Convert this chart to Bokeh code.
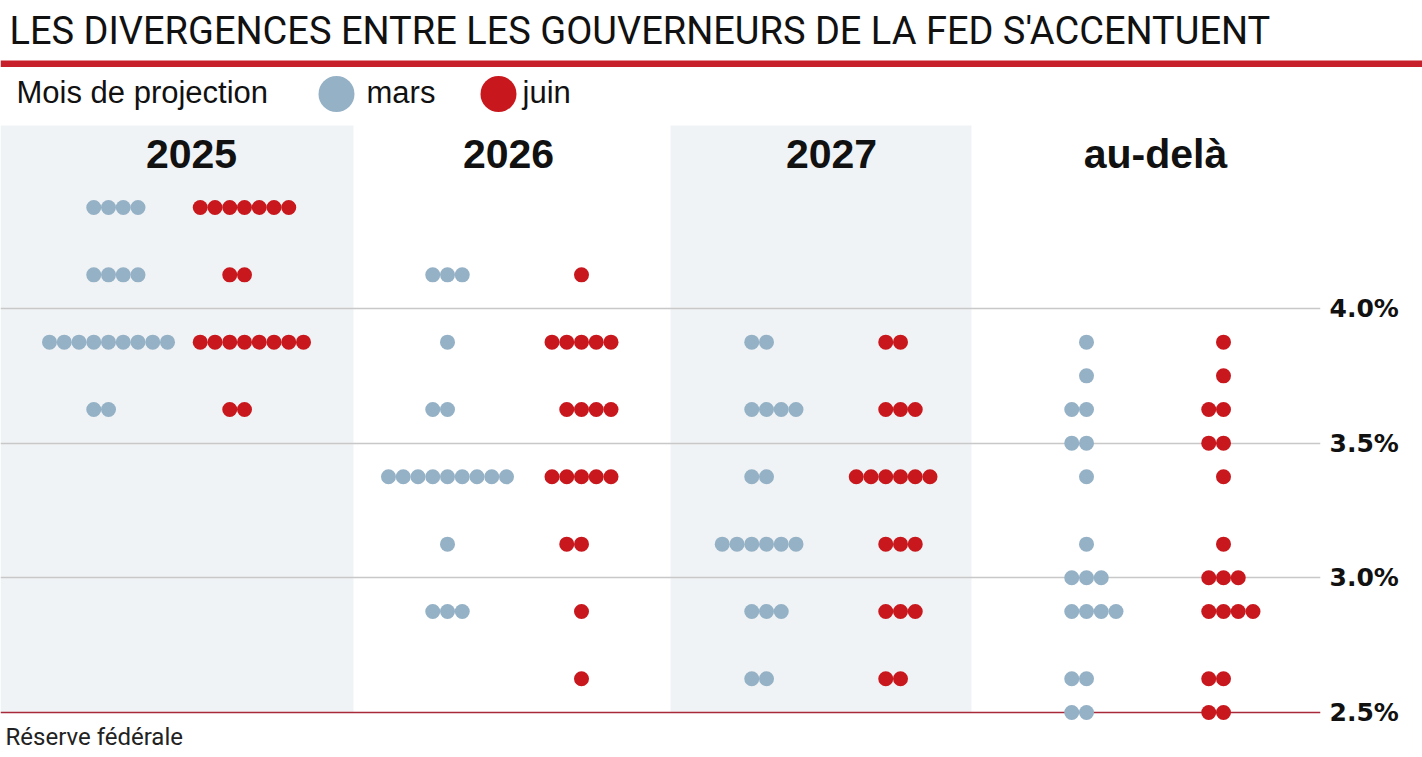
from bokeh.plotting import figure
from bokeh.models import Range1d, FixedTicker, PrintfTickFormatter, Span
from bokeh.layouts import column
from bokeh.core.properties import value
from bokeh.embed import file_html
from bokeh.resources import INLINE

# ---------------- data ----------------
TITLE = "LES DIVERGENCES ENTRE LES GOUVERNEURS DE LA FED S'ACCENTUENT"
SOURCE = "Réserve fédérale"
LEGEND_TITLE = "Mois de projection"
months = ["mars", "juin"]
periods = ["2025", "2026", "2027", "au-delà"]
levels = [4.375, 4.125, 3.875, 3.75, 3.625, 3.5, 3.375, 3.125, 3.0, 2.875, 2.625, 2.5]

mars_2025 = [4, 4, 9, 0, 2, 0, 0, 0, 0, 0, 0, 0]
juin_2025 = [7, 2, 8, 0, 2, 0, 0, 0, 0, 0, 0, 0]
mars_2026 = [0, 3, 1, 0, 2, 0, 9, 1, 0, 3, 0, 0]
juin_2026 = [0, 1, 5, 0, 4, 0, 5, 2, 0, 1, 1, 0]
mars_2027 = [0, 0, 2, 0, 4, 0, 2, 6, 0, 3, 2, 0]
juin_2027 = [0, 0, 2, 0, 3, 0, 6, 3, 0, 3, 2, 0]
mars_lr = [0, 0, 1, 1, 2, 2, 1, 1, 3, 4, 2, 2]
juin_lr = [0, 0, 1, 1, 2, 2, 1, 1, 3, 4, 2, 2]

y_ticks = [2.5, 3.0, 3.5, 4.0]

# ---------------- layout / style ----------------
W = 1422
HEAD_H = 120
MAIN_H = 637
FRAME_W = 1320
MARS_X = [108, 447, 766, 1086]
JUIN_X = [244, 581, 900, 1223]
PERIOD_X = [191, 508, 831, 1155]
STEP = 14.75
GREY = "#95b1c6"
RED = "#c8181e"
SHADE = "#f0f3f5"


def rate_at(y_px):
    # reference pixel row -> rate (4.0% at 308 px, 2.5% at 712 px)
    return 4.0 - (y_px - 308) / 269.3


def dots(counts_by_period, centers):
    xs, ys = [], []
    for counts, c in zip(counts_by_period, centers):
        for lvl, n in zip(levels, counts):
            start = -(n // 2) + (1 if n and n % 4 == 0 else 0)
            for k in range(start, start + n):
                xs.append(c + k * STEP)
                ys.append(lvl)
    return xs, ys


# ---------------- header ----------------
h = figure(width=W, height=HEAD_H, output_backend="svg", toolbar_location=None,
           x_range=Range1d(0, W), y_range=Range1d(HEAD_H, 0),
           x_axis_location=None, y_axis_location=None,
           min_border=0, outline_line_color=None)
h.frame_align = False
h.grid.visible = False
h.text(x=[9], y=[30], text=[TITLE], text_font=value("Roboto"),
       text_font_size="38px", text_color="#111111", text_baseline="middle")
h.quad(left=[0], right=[W], top=[60], bottom=[66.5], fill_color="#c8202a", line_color=None)
h.text(x=[16], y=[92], text=[LEGEND_TITLE], text_font=value("Liberation Sans"),
       text_font_size="31px", text_color="#111111", text_baseline="middle")
h.scatter(x=[336, 498], y=[93.5, 93.5], size=36, marker="circle",
          fill_color=[GREY, RED], line_color=None)
h.text(x=[366, 522], y=[92, 92], text=months, text_font=value("Liberation Sans"),
       text_font_size="31px", text_color="#111111", text_baseline="middle")

# ---------------- main chart ----------------
p = figure(width=W, height=MAIN_H, output_backend="svg", toolbar_location=None,
           x_range=Range1d(0, FRAME_W),
           y_range=Range1d(rate_at(HEAD_H + MAIN_H), rate_at(HEAD_H)),
           x_axis_location=None, y_axis_location="right",
           min_border_left=0, min_border_top=0, min_border_bottom=0,
           min_border_right=W - FRAME_W, outline_line_color=None)
p.frame_align = False

# shaded panels (2025, 2027)
p.quad(left=[0, 670], right=[353, 971], top=[rate_at(125)] * 2, bottom=[2.5] * 2,
       fill_color=SHADE, line_color=None, level="image")

p.xgrid.visible = False
p.ygrid.ticker = FixedTicker(ticks=[3.0, 3.5, 4.0])
p.ygrid.grid_line_color = "#c8c8c8"
p.ygrid.grid_line_width = 1.5
p.add_layout(Span(location=2.5, dimension="width", line_color="#a82a3a",
                  line_width=1.5, level="underlay"))

ax = p.yaxis[0]
ax.ticker = FixedTicker(ticks=y_ticks)
ax.formatter = PrintfTickFormatter(format="%.1f%%")
ax.axis_line_color = None
ax.major_tick_line_color = None
ax.minor_tick_line_color = None
ax.major_tick_out = 0
ax.major_label_standoff = 9
ax.major_label_text_font = "DejaVu Sans"
ax.major_label_text_font_style = "bold"
ax.major_label_text_font_size = "25px"
ax.major_label_text_color = "#111111"

# dots
mx, my = dots([mars_2025, mars_2026, mars_2027, mars_lr], MARS_X)
jx, jy = dots([juin_2025, juin_2026, juin_2027, juin_lr], JUIN_X)
p.scatter(x=mx, y=my, size=15, marker="circle", fill_color=GREY, line_color=None)
p.scatter(x=jx, y=jy, size=15, marker="circle", fill_color=RED, line_color=None)

# period headers
p.text(x=PERIOD_X, y=[rate_at(153.5)] * 4, text=periods, text_font=value("Liberation Sans"),
       text_font_size="41px", text_font_style="bold", text_color="#111111",
       text_align="center", text_baseline="middle")

# source
p.text(x=[5], y=[rate_at(736)], text=[SOURCE], text_font=value("Roboto"),
       text_font_size="24px", text_color="#222222", text_baseline="middle")

layout = column(h, p, spacing=0)
open("out.html", "w").write(file_html(layout, INLINE))
